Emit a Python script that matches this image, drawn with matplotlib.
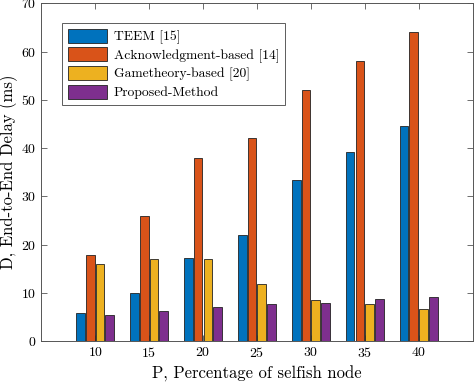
import numpy as np
import matplotlib
matplotlib.use("Agg")
import matplotlib.pyplot as plt

# data
percent = [10, 15, 20, 25, 30, 35, 40]
teem = [5.9, 9.9, 17.2, 22.0, 33.3, 39.1, 44.6]
ack = [17.9, 26.0, 38.0, 42.0, 52.1, 58.1, 64.1]
game = [16.0, 16.9, 17.0, 11.9, 8.4, 7.7, 6.6]
proposed = [5.3, 6.3, 7.0, 7.7, 7.9, 8.7, 9.2]

labels = ["TEEM [15]", "Acknowledgment-based [14]",
          "Gametheory-based [20]", "Proposed-Method"]
colors = ["#0072BD", "#D95319", "#EDB120", "#7E2F8E"]

plt.rcParams["font.family"] = ["cmr10", "DejaVu Serif"]
plt.rcParams["mathtext.fontset"] = "cm"
plt.rcParams["axes.formatter.use_mathtext"] = True

fig = plt.figure(figsize=(4.74, 3.87), dpi=100)
ax = fig.add_axes([0.087, 0.119, 0.91, 0.872])

x = np.array(percent, dtype=float)
slot = 0.9
width = 0.8
for i, (vals, lab, col) in enumerate(zip([teem, ack, game, proposed], labels, colors)):
    ax.bar(x + (i - 1.5) * slot, vals, width=width, color=col,
           edgecolor="#222222", linewidth=0.6, label=lab, zorder=2)

ax.set_xlim(5, 45)
ax.set_ylim(0, 70)
ax.set_xticks(percent)
ax.set_yticks(range(0, 71, 10))
ax.tick_params(direction="in", top=True, right=True, labelsize=10,
               color="#555555", length=4, width=0.6)
for s in ax.spines.values():
    s.set_color("#555555")
    s.set_linewidth(0.7)

ax.set_xlabel("P, Percentage of selfish node", fontsize=12)
ax.set_ylabel("D, End-to-End Delay (ms)", fontsize=12, labelpad=2)

leg = ax.legend(loc="upper left", bbox_to_anchor=(0.033, 0.962), fontsize=9.8,
                frameon=True, fancybox=False, edgecolor="#333333",
                handlelength=2.9, handleheight=1.2, labelspacing=0.25,
                borderpad=0.4, handletextpad=0.5)
leg.get_frame().set_linewidth(0.7)

fig.savefig("out.png", dpi=100)
